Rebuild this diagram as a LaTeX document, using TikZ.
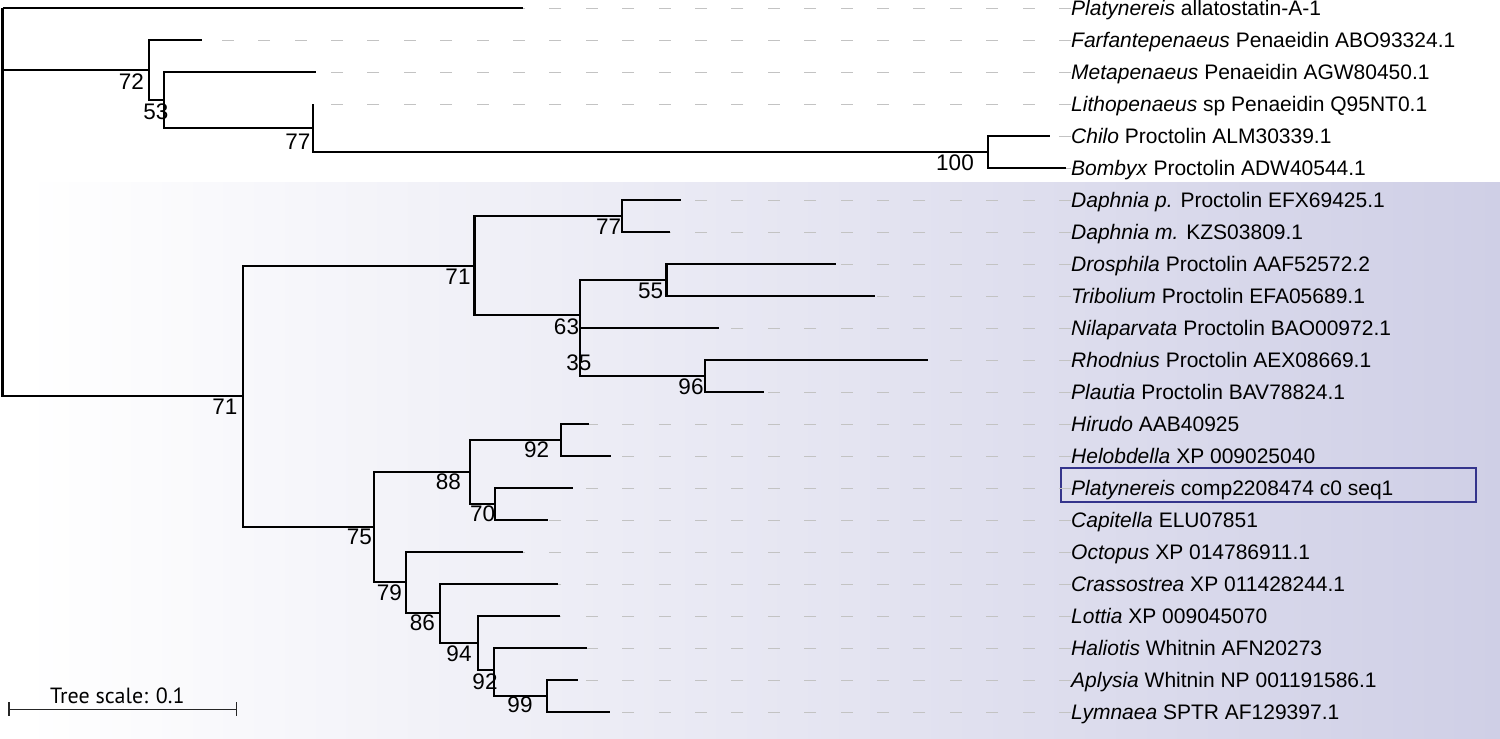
\documentclass[tikz,border=0pt]{standalone}
\usepackage{fontspec}
\setmainfont{Liberation Sans}
\newfontfamily\barfont{PT Sans}
\usepackage{tikz}

\definecolor{guidegray}{RGB}{195,195,195}
\definecolor{boxblue}{RGB}{52,52,140}
\definecolor{cladebg}{RGB}{207,207,230}

\begin{document}
\begin{tikzpicture}[x=1pt,y=-1pt,
  branch/.style={line width=2.3pt},
  guide/.style={guidegray,line width=1pt,dash pattern=on 12pt off 24.4pt},
  leaf/.style={anchor=west,inner sep=0pt,text height=15pt,text depth=0pt,font=\fontsize{21}{25}\selectfont},
  boot/.style={inner sep=0pt,font=\fontsize{22.5}{26}\selectfont},
  hibox/.style={draw=boxblue,line width=2pt},
  scalebar/.style={line width=1.2pt,black!85}]
 \useasboundingbox (0,0) rectangle (1500,739);
 % shaded clade
 \shade[left color=white,right color=cladebg] (23,182) rectangle (1500,738);
 \draw[hibox] (1061,468.3) rectangle (1475.7,501.7);
 % leaves: end of branch, label, guide
 \foreach \i/\xe/\txt in {
   0/522.6/{\textit{Platynereis} allatostatin-A-1},
   1/202/{\textit{Farfantepenaeus} Penaeidin ABO93324.1},
   2/315.7/{\textit{Metapenaeus} Penaeidin AGW80450.1},
   3/313/{\textit{Lithopenaeus} sp Penaeidin Q95NT0.1},
   4/1050/{\textit{Chilo} Proctolin ALM30339.1},
   5/1065.6/{\textit{Bombyx} Proctolin ADW40544.1},
   6/680.5/{\textit{Daphnia p.} Proctolin EFX69425.1},
   7/670/{\textit{Daphnia m.} KZS03809.1},
   8/836/{\textit{Drosphila} Proctolin AAF52572.2},
   9/875/{\textit{Tribolium} Proctolin EFA05689.1},
   10/719.3/{\textit{Nilaparvata} Proctolin BAO00972.1},
   11/928.3/{\textit{Rhodnius} Proctolin AEX08669.1},
   12/764/{\textit{Plautia} Proctolin BAV78824.1},
   13/589/{\textit{Hirudo} AAB40925},
   14/610.7/{\textit{Helobdella} XP 009025040},
   15/573.3/{\textit{Platynereis} comp2208474 c0 seq1},
   16/547.7/{\textit{Capitella} ELU07851},
   17/523.3/{\textit{Octopus} XP 014786911.1},
   18/558.3/{\textit{Crassostrea} XP 011428244.1},
   19/560/{\textit{Lottia} XP 009045070},
   20/586.7/{\textit{Haliotis} Whitnin AFN20273},
   21/578.3/{\textit{Aplysia} Whitnin NP 001191586.1},
   22/610/{\textit{Lymnaea} SPTR AF129397.1}}{
   \coordinate (e\i) at (\xe,8+32*\i);
   \node[leaf] (l\i) at (1071,8+32*\i) {\txt};
   \draw[guide] (l\i.west) -- (e\i);
 }
 % internal nodes
 \coordinate (root) at (2.5,8);
 \coordinate (n72) at (149,70);
 \coordinate (n53) at (164,100);
 \coordinate (n77a) at (313,128);
 \coordinate (n100) at (988,152);
 \coordinate (n71b) at (243.3,396);
 \coordinate (n71a) at (474.6,266);
 \coordinate (n77b) at (622,216);
 \coordinate (n63) at (580,315);
 \coordinate (n55) at (666.5,280);
 \coordinate (n35) at (580,352);
 \coordinate (n96) at (705,376);
 \coordinate (n75) at (374,527);
 \coordinate (n88) at (470,472);
 \coordinate (n92a) at (560.7,440);
 \coordinate (n70) at (495,504);
 \coordinate (n79) at (405.7,582);
 \coordinate (n86) at (440,613);
 \coordinate (n94) at (478.3,643);
 \coordinate (n92b) at (494.3,670);
 \coordinate (n99) at (547.3,696);
 \draw[branch] (root) |- (e0) (root) |- (n72) (root) |- (n71b)
  (n72) |- (e1) (n72) |- (n53)
  (n53) |- (e2) (n53) |- (n77a)
  (n77a) |- (e3) (n77a) |- (n100)
  (n100) |- (e4) (n100) |- (e5)
  (n71b) |- (n71a) (n71b) |- (n75)
  (n71a) |- (n77b) (n71a) |- (n63)
  (n77b) |- (e6) (n77b) |- (e7)
  (n63) |- (n55) (n63) |- (n35)
  (n55) |- (e8) (n55) |- (e9)
  (n35) |- (e10) (n35) |- (n96)
  (n96) |- (e11) (n96) |- (e12)
  (n75) |- (n88) (n75) |- (n79)
  (n88) |- (n92a) (n88) |- (n70)
  (n92a) |- (e13) (n92a) |- (e14)
  (n70) |- (e15) (n70) |- (e16)
  (n79) |- (e17) (n79) |- (n86)
  (n86) |- (e18) (n86) |- (n94)
  (n94) |- (e19) (n94) |- (n92b)
  (n92b) |- (e20) (n92b) |- (n99)
  (n99) |- (e21) (n99) |- (e22);
 % bootstrap values
 \node[boot] (b72) at (131.5,81.7) {72};
 \node[boot] (b53) at (156,111.7) {53};
 \node[boot] (b77a) at (298,141.7) {77};
 \node[boot] (b100) at (955,163) {100};
 \node[boot] (b77b) at (608.6,226.7) {77};
 \node[boot] (b71a) at (458,276.7) {71};
 \node[boot] (b55) at (650.7,291) {55};
 \node[boot] (b63) at (566.5,326.7) {63};
 \node[boot] (b35) at (578.8,362.7) {35};
 \node[boot] (b96) at (691,386.7) {96};
 \node[boot] (b71b) at (225,406.7) {71};
 \node[boot] (b92a) at (536.7,450) {92};
 \node[boot] (b88) at (448.3,481.7) {88};
 \node[boot] (b70) at (482.7,513.3) {70};
 \node[boot] (b75) at (359.3,536.7) {75};
 \node[boot] (b79) at (389.3,592.3) {79};
 \node[boot] (b86) at (422.3,622.7) {86};
 \node[boot] (b94) at (459,654) {94};
 \node[boot] (b92b) at (485,681.7) {92};
 \node[boot] (b99) at (520,705) {99};
 % scale bar
 \coordinate (sbl) at (9,709.3);
 \coordinate (sbr) at (236.7,709.3);
 \draw[scalebar] (sbl) -- (sbr) ([yshift=7pt]sbl) -- ([yshift=-7pt]sbl) ([yshift=7pt]sbr) -- ([yshift=-7pt]sbr);
 \node[anchor=base west,inner sep=0pt,font=\barfont\fontsize{22}{26}\selectfont] (sbt) at (50,703.3) {Tree scale: 0.1};
\end{tikzpicture}
\end{document}
